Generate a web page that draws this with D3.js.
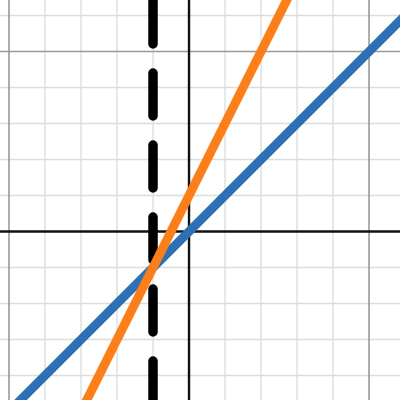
<!DOCTYPE html>
<html>
<head>
<meta charset="utf-8">
<script src="https://cdn.jsdelivr.net/npm/d3@7"></script>
<style>
  html, body { margin: 0; padding: 0; background: #fff; }
  svg { display: block; }
</style>
</head>
<body>
<div id="plot-container"></div>
<script>
// Visible window of the graph (graph units)
const xDomain = [-5.25, 5.86];
const yDomain = [-4.68, 6.43];

// Grid steps
const minorStep = 1;
const majorStep = 5;

// Lines y = slope * x + intercept
const lineNames = ["blue", "orange"];
const lineSlopes = [1, 2];
const lineIntercepts = [0, 1];
const lineColors = ["#2d70b3", "#fa7e19"];

// Vertical dashed line x = c
const verticalX = [-1];

const width = 400, height = 400;

const svg = d3.select("#plot-container").append("svg")
    .attr("width", width)
    .attr("height", height);

const x = d3.scaleLinear().domain(xDomain).range([0, width]);
const y = d3.scaleLinear().domain(yDomain).range([height, 0]);

// grid values
const xs = d3.range(Math.ceil(xDomain[0]), Math.floor(xDomain[1]) + 1, minorStep);
const ys = d3.range(Math.ceil(yDomain[0]), Math.floor(yDomain[1]) + 1, minorStep);

const grid = svg.append("g").attr("class", "grid");

// minor grid
grid.selectAll("line.vminor")
    .data(xs.filter(d => d % majorStep !== 0))
    .enter().append("line")
    .attr("x1", d => x(d)).attr("x2", d => x(d))
    .attr("y1", 0).attr("y2", height)
    .attr("stroke", "#dcdcdc").attr("stroke-width", 1.3);

grid.selectAll("line.hminor")
    .data(ys.filter(d => d % majorStep !== 0))
    .enter().append("line")
    .attr("y1", d => y(d)).attr("y2", d => y(d))
    .attr("x1", 0).attr("x2", width)
    .attr("stroke", "#dcdcdc").attr("stroke-width", 1.3);

// major grid
grid.selectAll("line.vmajor")
    .data(xs.filter(d => d % majorStep === 0 && d !== 0))
    .enter().append("line")
    .attr("x1", d => x(d)).attr("x2", d => x(d))
    .attr("y1", 0).attr("y2", height)
    .attr("stroke", "#999").attr("stroke-width", 1.6);

grid.selectAll("line.hmajor")
    .data(ys.filter(d => d % majorStep === 0 && d !== 0))
    .enter().append("line")
    .attr("y1", d => y(d)).attr("y2", d => y(d))
    .attr("x1", 0).attr("x2", width)
    .attr("stroke", "#999").attr("stroke-width", 1.6);

// axes
svg.append("line")
    .attr("x1", x(0)).attr("x2", x(0))
    .attr("y1", 0).attr("y2", height)
    .attr("stroke", "#111").attr("stroke-width", 2.4);
svg.append("line")
    .attr("y1", y(0)).attr("y2", y(0))
    .attr("x1", 0).attr("x2", width)
    .attr("stroke", "#111").attr("stroke-width", 2.4);

const line = d3.line().x(d => x(d[0])).y(d => y(d[1]));

function drawLine(i) {
  const pts = [xDomain[0] - 1, xDomain[1] + 1]
      .map(v => [v, lineSlopes[i] * v + lineIntercepts[i]]);
  svg.append("path")
      .attr("class", lineNames[i])
      .attr("d", line(pts))
      .attr("fill", "none")
      .attr("stroke", lineColors[i])
      .attr("stroke-width", 9);
}

drawLine(0);

// dashed vertical line
verticalX.forEach(c => {
  svg.append("path")
      .attr("d", line([[c, yDomain[1]], [c, yDomain[0] - 1]]))
      .attr("fill", "none")
      .attr("stroke", "#000")
      .attr("stroke-width", 9.5)
      .attr("stroke-linecap", "round")
      .attr("stroke-dasharray", "43,29")
      .attr("stroke-dashoffset", 71);
});

drawLine(1);
</script>
</body>
</html>
